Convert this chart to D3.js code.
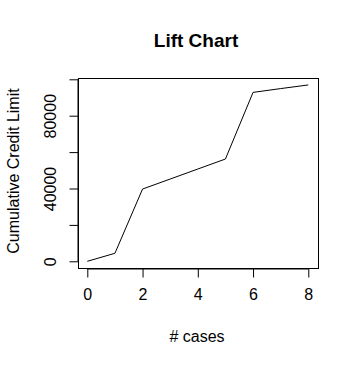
<!DOCTYPE html>
<html><head><meta charset="utf-8">
<script src="https://cdn.jsdelivr.net/npm/d3@7"></script>
<style>body{margin:0;background:#fff}svg{display:block}text{font-family:"Liberation Sans",Arial,sans-serif;fill:#000}</style>
</head><body>
<script>
const cases = [0,1,2,3,4,5,6,7,8];
const creditLimit = [0,4400,39700,45200,50700,56200,92800,94900,96900];
const xTicks = [0,2,4,6,8];
const yTicks = [0,20000,40000,60000,80000,100000];
const yLabels = [0,40000,80000];

const W=358,H=366;
const svg=d3.select("body").append("svg").attr("width",W).attr("height",H);
const box={l:78.5,r:318.5,t:78.5,b:268.5};
const x=d3.scaleLinear().domain([0,8]).range([87.3,308.3]);
const y=d3.scaleLinear().domain([0,80000]).range([261.3,115.7]);

svg.append("rect").attr("x",box.l).attr("y",box.t).attr("width",box.r-box.l).attr("height",box.b-box.t)
  .attr("fill","none").attr("stroke","#000").attr("stroke-width",1);

const line=d3.line().x((d,i)=>x(cases[i])).y(d=>y(d));
svg.append("path").attr("d",line(creditLimit)).attr("fill","none").attr("stroke","#000").attr("stroke-width",1);

// x axis
const gx=svg.append("g").attr("transform",`translate(0,${box.b})`);
gx.call(d3.axisBottom(x).tickValues(xTicks).tickSize(9).tickPadding(11).tickFormat(d3.format("d")));
gx.select(".domain").attr("d",`M${Math.round(x(0))+0.5},0.5H${Math.round(x(8))+0.5}`);
gx.selectAll(".tick line").attr("stroke","#000");
gx.selectAll("text").attr("font-size",16).style("font-family","Liberation Sans, Arial, sans-serif");

// y axis
const gy=svg.append("g").attr("transform",`translate(${box.l},0)`);
gy.call(d3.axisLeft(y).tickValues(yTicks).tickSize(9).tickFormat(d=>yLabels.includes(d)?d:""));
gy.select(".domain").attr("d",`M-0.5,${y(0)}V${y(100000)}`);
gy.selectAll(".tick text").attr("x",null).attr("dy",null)
  .attr("transform","translate(-28,0) rotate(-90)").attr("text-anchor","middle").attr("dy","0.35em")
  .attr("font-size",16).style("font-family","Liberation Sans, Arial, sans-serif");

svg.append("text").attr("x",196).attr("y",47).attr("text-anchor","middle")
  .attr("font-size",19).attr("font-weight","bold").text("Lift Chart");
svg.append("text").attr("x",197).attr("y",342).attr("text-anchor","middle")
  .attr("font-size",16).text("# cases");
svg.append("text").attr("transform",`translate(19,171) rotate(-90)`).attr("text-anchor","middle")
  .attr("font-size",16).text("Cumulative Credit Limit");
</script>
</body></html>
